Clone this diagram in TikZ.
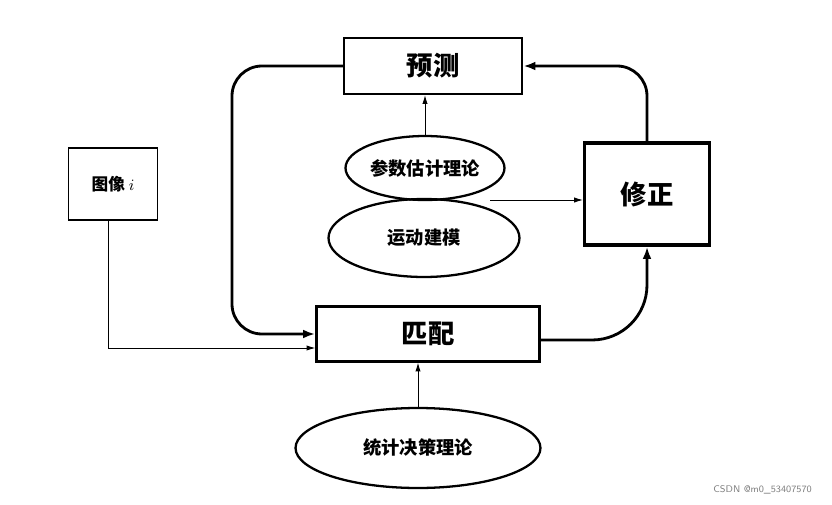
\documentclass[tikz,border=0pt]{standalone}
\usepackage{fontspec}
\newfontfamily\cjk{Noto Sans CJK SC}
\usepackage{tikz}
\usetikzlibrary{arrows.meta}
\usetikzlibrary{shapes.geometric}

\begin{document}
\begin{tikzpicture}[x=0.02cm, y=-0.02cm,
    box/.style={draw, line width=1.3pt, inner sep=0pt, font=\cjk\bfseries\fontsize{15}{17}\selectfont},
    oval/.style={draw, ellipse, line width=1.3pt, inner sep=0pt, font=\cjk\bfseries\fontsize{10.4}{12}\selectfont},
    loopline/.style={line width=1.6pt, rounded corners=0.6cm, -{Latex[length=7pt,width=5pt]}},
    thinline/.style={line width=0.5pt, -{Latex[length=5pt,width=3pt]}}
]
    \useasboundingbox (0,0) rectangle (832,504);

    % Boxes
    \node[box, minimum width=3.56cm, minimum height=1.12cm] (yuce) at (433,66) {预测};
    \node[box, line width=1.8pt, minimum width=2.5cm, minimum height=2.04cm] (xiuzheng) at (647,194) {修正};
    \node[box, line width=1pt, minimum width=1.78cm, minimum height=1.44cm,
          font=\cjk\bfseries\fontsize{9.5}{11}\selectfont] (tuxiang) at (113,184) {图像 $i$};
    \node[box, minimum width=4.46cm, minimum height=1.1cm] (pipei) at (428,334) {匹配};

    % Ellipses
    \node[oval, minimum width=3.18cm, minimum height=1.28cm] (canshu) at (425,168) {参数估计理论};
    \node[oval, minimum width=3.82cm, minimum height=1.56cm] (yundong) at (424,238) {运动建模};
    \node[oval, minimum width=4.9cm, minimum height=1.6cm] (tongji) at (418,448) {统计决策理论};
    \coordinate (jiedian) at (490,200);

    % Main loop
    \draw[loopline] (yuce.west) -| (232,200) |- (pipei.west);
    \draw[loopline, rounded corners=1.1cm] ([yshift=-0.12cm]pipei.east) -| (xiuzheng.south);
    \draw[loopline] (xiuzheng.north) |- (yuce.east);

    % Thin connectors
    \draw[thinline] ([xshift=-0.1cm]tuxiang.south) |- ([yshift=-0.28cm]pipei.west);
    \draw[thinline] (canshu.north) -- (canshu.north |- yuce.south);
    \draw[thinline] (tongji.north) -- (tongji.north |- pipei.south);
    \draw[thinline] (jiedian) -- (xiuzheng.west |- jiedian);

    \node[text=gray, font=\sffamily\fontsize{5.5}{6.5}\selectfont, anchor=east] (csdn) at (818,490) {CSDN @m0\_53407570};
\end{tikzpicture}
\end{document}
